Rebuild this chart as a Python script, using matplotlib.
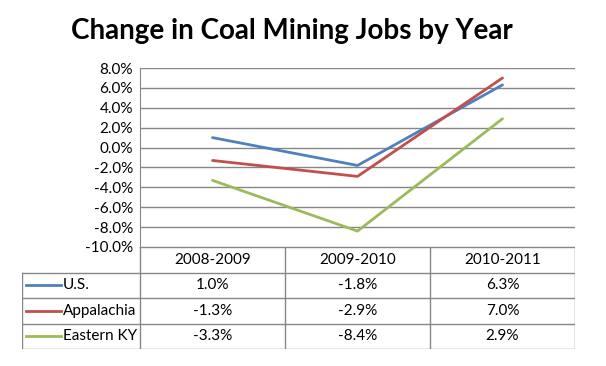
import matplotlib.pyplot as plt
from matplotlib.ticker import FuncFormatter

plt.rcParams['font.family'] = ['Lato', 'DejaVu Sans']

# data
years = ["2008-2009", "2009-2010", "2010-2011"]
regions = ["U.S.", "Appalachia", "Eastern KY"]
us = [1.0, -1.8, 6.3]
appalachia = [-1.3, -2.9, 7.0]
eastern_ky = [-3.3, -8.4, 2.9]
colors = ["#4F81BD", "#C0504D", "#9BBB59"]
series = [us, appalachia, eastern_ky]

W, H = 606, 366
fig = plt.figure(figsize=(W / 100, H / 100), dpi=100)

grid_c = "#868686"
x = range(len(years))

# chart area
ax = fig.add_axes([140 / W, 1 - 247 / H, 435 / W, 179 / H])
for vals, c in zip(series, colors):
    ax.plot(x, vals, color=c, lw=2.0, solid_capstyle="round")
ax.set_xlim(-0.5, len(years) - 0.5)
ax.set_ylim(-10, 8)
ax.set_yticks(range(-10, 9, 2))
ax.yaxis.set_major_formatter(FuncFormatter(lambda v, p: f"{v:.1f}%"))
ax.set_xticks([])
ax.grid(axis="y", color=grid_c, lw=1)
ax.tick_params(axis="y", length=0, pad=5, labelsize=11)
for s in ["top", "right", "bottom"]:
    ax.spines[s].set_visible(False)
ax.spines["left"].set_color(grid_c)

fig.text(0.482, 0.915, "Change in Coal Mining Jobs by Year", ha="center", va="center",
         fontsize=20, fontweight="bold")

# data table
tab = fig.add_axes([22 / W, 1 - 349 / H, 553 / W, 102 / H])
left = -0.5 - 118 / 145
tab.set_xlim(left, len(years) - 0.5)
tab.set_ylim(len(regions) + 1, 0)
tab.axis("off")
lkw = dict(color=grid_c, lw=1)
# horizontal lines
tab.plot([-0.5, len(years) - 0.5], [0, 0], **lkw)
for r in range(1, len(regions) + 2):
    tab.plot([left, len(years) - 0.5], [r, r], **lkw)
# vertical lines
tab.plot([left, left], [1, len(regions) + 1], **lkw)
for i in range(len(years) + 1):
    tab.plot([i - 0.5, i - 0.5], [0, len(regions) + 1], **lkw)
for i, y in enumerate(years):
    tab.text(i, 0.5, y, ha="center", va="center", fontsize=11)
for r, (name, vals, c) in enumerate(zip(regions, series, colors)):
    yy = r + 1.5
    tab.plot([left + 0.03, left + 0.27], [yy, yy], color=c, lw=2.0)
    tab.text(left + 0.28, yy, name, ha="left", va="center", fontsize=11)
    for i, v in enumerate(vals):
        tab.text(i, yy, f"{v:.1f}%", ha="center", va="center", fontsize=11)

fig.savefig("out.png", dpi=100)
